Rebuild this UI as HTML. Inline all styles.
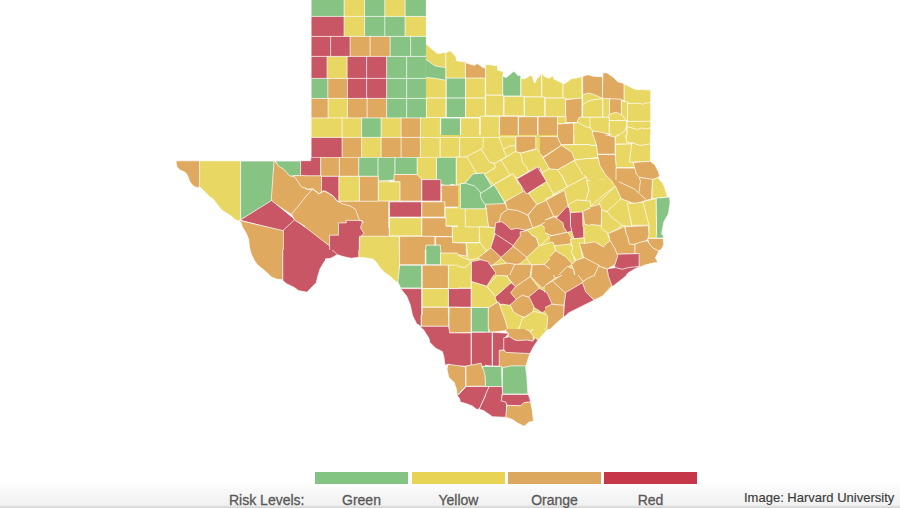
<!DOCTYPE html>
<html><head><meta charset="utf-8"><style>
html,body{margin:0;padding:0;background:#fff;width:900px;height:508px;overflow:hidden;position:relative}
.bar{position:absolute;top:472px;height:12px}
.foot{position:absolute;left:0;top:482px;width:900px;height:26px;background:linear-gradient(#fff 0%,#f7f7f7 40%,#f1f1f1 88%,#e6e6e6 92%,#d3d3d3 100%)}
.lab{position:absolute;top:492px;font-family:"Liberation Sans",sans-serif;font-size:14px;color:#585858;-webkit-text-stroke:0.3px #585858;white-space:nowrap;line-height:17px}
.c{width:120px;text-align:center}
</style></head><body>
<svg width="900" height="508" viewBox="0 0 900 508" style="position:absolute;left:0;top:0"><defs><clipPath id="c0"><rect x="305.0" y="0.0" width="121.0" height="157.5"/></clipPath><clipPath id="c1"><rect x="426.0" y="0.0" width="130.0" height="135.0"/></clipPath><clipPath id="c2"><rect x="556.0" y="0.0" width="134.0" height="135.0"/></clipPath><clipPath id="c3"><rect x="170.0" y="157.5" width="135.0" height="92.5"/></clipPath><clipPath id="c4"><rect x="305.0" y="157.5" width="153.0" height="92.5"/></clipPath><clipPath id="c5"><rect x="426.0" y="135.0" width="114.0" height="22.5"/><rect x="458.0" y="157.5" width="82.0" height="27.5"/></clipPath><clipPath id="c6"><rect x="540.0" y="135.0" width="50.0" height="40.0"/></clipPath><clipPath id="c7"><rect x="458.0" y="185.0" width="87.0" height="50.0"/></clipPath><clipPath id="c8"><rect x="540.0" y="175.0" width="50.0" height="10.0"/><rect x="545.0" y="185.0" width="45.0" height="42.0"/></clipPath><clipPath id="c9"><rect x="590.0" y="135.0" width="100.0" height="45.0"/></clipPath><clipPath id="c10"><rect x="590.0" y="180.0" width="100.0" height="55.0"/></clipPath><clipPath id="c11"><rect x="170.0" y="250.0" width="155.0" height="90.0"/></clipPath><clipPath id="c12"><rect x="325.0" y="250.0" width="133.0" height="65.0"/></clipPath><clipPath id="c13"><rect x="458.0" y="235.0" width="92.0" height="40.0"/></clipPath><clipPath id="c14"><rect x="545.0" y="227.0" width="60.0" height="8.0"/><rect x="550.0" y="235.0" width="55.0" height="40.0"/></clipPath><clipPath id="c15"><rect x="605.0" y="235.0" width="85.0" height="40.0"/></clipPath><clipPath id="c16"><rect x="458.0" y="275.0" width="87.0" height="54.0"/></clipPath><clipPath id="c17"><rect x="545.0" y="275.0" width="95.0" height="54.0"/></clipPath><clipPath id="c18"><rect x="400.0" y="315.0" width="58.0" height="14.0"/><rect x="400.0" y="329.0" width="85.0" height="40.0"/></clipPath><clipPath id="c19"><rect x="485.0" y="329.0" width="105.0" height="40.0"/></clipPath><clipPath id="c20"><rect x="400.0" y="369.0" width="190.0" height="26.0"/></clipPath><clipPath id="c21"><rect x="400.0" y="395.0" width="190.0" height="45.0"/></clipPath></defs><g stroke="#fff" stroke-width="0.7" stroke-linejoin="round"><g clip-path="url(#c0)">
<polygon fill="#87c484" points="311.10,-2.40 311.10,17.20 344.90,17.20 344.90,-2.40"/>
<polygon fill="#e8d762" points="344.10,-2.40 344.10,17.20 365.40,17.20 365.40,-2.40"/>
<polygon fill="#87c484" points="364.60,-2.40 364.60,17.20 385.60,17.20 385.60,-2.40"/>
<polygon fill="#e8d762" points="384.80,-2.40 384.80,17.20 405.90,17.20 405.90,-2.40"/>
<polygon fill="#87c484" points="405.10,-2.40 405.10,17.20 426.40,17.20 426.40,-2.40"/>
<polygon fill="#c85664" points="311.10,16.40 311.10,37.20 344.90,37.20 344.90,16.40"/>
<polygon fill="#e8d762" points="344.10,16.40 344.10,37.20 365.40,37.20 365.40,16.40"/>
<polygon fill="#87c484" points="364.60,16.40 364.60,37.20 385.60,37.20 385.60,16.40"/>
<polygon fill="#87c484" points="384.80,16.40 384.80,37.20 405.90,37.20 405.90,16.40"/>
<polygon fill="#e8d762" points="405.10,16.40 405.10,37.20 426.40,37.20 426.40,16.40"/>
<polygon fill="#c85664" points="311.10,36.40 311.10,57.20 331.40,57.20 331.40,36.40"/>
<polygon fill="#c85664" points="330.60,36.40 330.60,57.20 350.90,57.20 350.90,36.40"/>
<polygon fill="#dfaa60" points="350.10,36.40 350.10,57.20 370.90,57.20 370.90,36.40"/>
<polygon fill="#dfaa60" points="370.10,36.40 370.10,57.20 390.90,57.20 390.90,36.40"/>
<polygon fill="#87c484" points="390.10,36.40 390.10,57.20 411.40,57.20 411.40,36.40"/>
<polygon fill="#87c484" points="410.60,36.40 410.60,57.20 426.40,57.20 426.40,36.40"/>
<polygon fill="#c85664" points="311.10,56.40 311.10,79.20 327.90,79.20 327.90,56.40"/>
<polygon fill="#e8d762" points="327.10,56.40 327.10,79.20 347.90,79.20 347.90,56.40"/>
<polygon fill="#c85664" points="347.10,56.40 347.10,79.20 367.40,79.20 367.40,56.40"/>
<polygon fill="#c85664" points="366.60,56.40 366.60,79.20 387.40,79.20 387.40,56.40"/>
<polygon fill="#87c484" points="386.60,56.40 386.60,79.20 407.40,79.20 407.40,56.40"/>
<polygon fill="#87c484" points="406.60,56.40 406.60,79.20 426.40,79.20 426.40,56.40"/>
<polygon fill="#87c484" points="311.10,78.40 311.10,99.20 328.60,99.20 328.60,78.40"/>
<polygon fill="#dfaa60" points="327.80,78.40 327.80,99.20 348.20,99.20 348.20,78.40"/>
<polygon fill="#c85664" points="347.40,78.40 347.40,99.20 367.40,99.20 367.40,78.40"/>
<polygon fill="#c85664" points="366.60,78.40 366.60,99.20 387.40,99.20 387.40,78.40"/>
<polygon fill="#87c484" points="386.60,78.40 386.60,99.20 407.40,99.20 407.40,78.40"/>
<polygon fill="#87c484" points="406.60,78.40 406.60,99.20 426.40,99.20 426.40,78.40"/>
<polygon fill="#dfaa60" points="311.10,98.40 311.10,118.70 328.90,118.70 328.90,98.40"/>
<polygon fill="#e8d762" points="328.10,98.40 328.10,118.70 348.20,118.70 348.20,98.40"/>
<polygon fill="#dfaa60" points="347.40,98.40 347.40,118.70 367.90,118.70 367.90,98.40"/>
<polygon fill="#dfaa60" points="367.10,98.40 367.10,118.70 387.40,118.70 387.40,98.40"/>
<polygon fill="#87c484" points="386.60,98.40 386.60,118.70 407.40,118.70 407.40,98.40"/>
<polygon fill="#87c484" points="406.60,98.40 406.60,118.70 426.40,118.70 426.40,98.40"/>
<polygon fill="#e8d762" points="311.10,117.90 311.10,138.20 342.90,138.20 342.90,117.90"/>
<polygon fill="#e8d762" points="342.10,117.90 342.10,138.20 362.40,138.20 362.40,117.90"/>
<polygon fill="#87c484" points="361.60,117.90 361.60,138.20 381.90,138.20 381.90,117.90"/>
<polygon fill="#e8d762" points="381.10,117.90 381.10,138.20 401.90,138.20 401.90,117.90"/>
<polygon fill="#dfaa60" points="401.10,117.90 401.10,138.20 421.20,138.20 421.20,117.90"/>
<polygon fill="#e8d762" points="420.40,117.90 420.40,138.20 440.90,138.20 440.90,117.90"/>
<polygon fill="#c85664" points="311.10,137.40 311.10,157.70 342.90,157.70 342.90,137.40"/>
<polygon fill="#dfaa60" points="342.10,137.40 342.10,157.70 362.40,157.70 362.40,137.40"/>
<polygon fill="#e8d762" points="361.60,137.40 361.60,157.70 381.90,157.70 381.90,137.40"/>
<polygon fill="#dfaa60" points="381.10,137.40 381.10,157.70 401.90,157.70 401.90,137.40"/>
<polygon fill="#dfaa60" points="401.10,137.40 401.10,157.70 421.20,157.70 421.20,137.40"/>
<polygon fill="#e8d762" points="420.40,137.40 420.40,157.70 440.90,157.70 440.90,137.40"/>
</g>
<g clip-path="url(#c1)">
<polygon fill="#e8d762" points="427.39,45.05 424.93,42.28 424.93,60.29 426.48,60.80 434.51,66.60 443.05,67.95 446.18,68.47 446.18,52.99 442.57,52.47 441.21,53.38 437.47,53.38 431.37,48.58"/>
<polygon fill="#87c484" points="424.93,59.45 424.93,78.14 434.61,79.06 446.18,81.15 446.18,67.66 443.18,67.16 434.82,65.84 426.85,60.08"/>
<polygon fill="#e8d762" points="445.82,53.11 445.82,78.62 465.73,78.62 465.73,61.86 456.77,60.96 455.93,57.17 453.63,53.95 449.82,50.61"/>
<polygon fill="#dfaa60" points="465.38,62.56 465.38,78.62 485.73,78.62 485.73,68.11 482.84,67.62 480.24,65.46 477.33,63.52 474.59,65.35 471.22,64.50"/>
<polygon fill="#e8d762" points="485.60,64.46 485.60,95.29 503.07,95.29 503.07,71.47 497.71,70.13 497.21,64.44 495.87,65.79 491.61,64.94"/>
<polygon fill="#87c484" points="502.71,76.06 502.71,96.18 520.84,96.18 520.84,75.38 517.94,75.38 516.28,73.72 513.80,71.24 506.16,77.54"/>
<polygon fill="#e8d762" points="520.93,77.91 520.93,97.07 541.73,97.07 541.73,74.49 540.13,74.49 539.65,76.42 537.01,78.18 534.97,83.07 533.70,81.80 532.81,77.36 530.73,75.28 524.39,78.90"/>
<polygon fill="#e8d762" points="541.82,72.87 541.82,98.18 563.07,98.18 563.07,83.53 558.40,81.20 554.09,79.04 552.60,75.56 549.26,78.42 544.27,76.34 541.93,72.84"/>
<polygon fill="#e8d762" points="562.93,84.44 562.93,99.30 581.96,98.83 581.96,76.60 575.93,78.05 571.40,78.50 566.88,82.11"/>
<polygon fill="#dfaa60" points="582.49,76.35 582.49,99.51 587.93,97.03 594.50,94.41 601.96,95.34 601.96,75.89 594.46,74.49 587.71,75.16"/>
<polygon fill="#e8d762" points="424.93,77.34 424.93,98.18 446.18,98.18 446.18,80.33 434.72,78.27"/>
<polygon fill="#87c484" points="446.27,78.04 446.27,98.18 465.51,98.18 465.51,78.04"/>
<polygon fill="#e8d762" points="465.60,78.04 465.60,98.18 485.29,98.18 485.29,78.04"/>
<polygon fill="#e8d762" points="426.27,98.04 426.27,117.51 445.96,117.51 445.96,98.04"/>
<polygon fill="#87c484" points="446.27,98.04 446.27,117.51 465.51,117.51 465.51,98.04"/>
<polygon fill="#e8d762" points="465.60,98.04 465.60,117.51 485.29,117.51 485.29,98.04"/>
<polygon fill="#e8d762" points="485.60,95.16 485.60,115.96 503.73,115.96 503.73,95.16"/>
<polygon fill="#e8d762" points="504.04,96.27 504.04,115.96 524.18,115.96 524.18,96.27"/>
<polygon fill="#e8d762" points="524.49,96.93 524.49,116.62 544.84,116.62 544.84,96.93"/>
<polygon fill="#e8d762" points="545.16,98.04 545.16,117.07 565.51,117.07 565.51,98.04"/>
<polygon fill="#dfaa60" points="565.60,99.64 565.60,122.62 581.96,122.62 581.96,98.00"/>
<polygon fill="#e8d762" points="582.49,98.68 582.49,105.08 594.48,99.32 603.73,102.09 603.73,96.35 594.46,94.04 587.63,95.18"/>
<polygon fill="#e8d762" points="582.49,104.19 582.49,117.07 603.73,117.07 603.73,101.26 594.41,98.46"/>
<polygon fill="#e8d762" points="420.71,117.38 420.71,137.07 440.40,137.07 440.40,117.38"/>
<polygon fill="#87c484" points="440.71,118.04 440.71,137.51 460.40,137.51 460.40,118.04"/>
<polygon fill="#e8d762" points="460.71,118.04 460.71,137.51 479.73,137.51 479.73,118.04"/>
<polygon fill="#e8d762" points="480.27,116.27 480.27,137.07 499.29,137.07 499.29,116.27"/>
<polygon fill="#dfaa60" points="499.60,116.27 499.60,135.96 518.18,135.96 518.18,116.27"/>
<polygon fill="#dfaa60" points="518.49,116.71 518.49,136.62 537.51,136.62 537.51,116.71"/>
<polygon fill="#dfaa60" points="538.04,116.71 538.04,137.07 557.51,137.07 557.51,116.71"/>
<polygon fill="#e8d762" points="557.38,116.71 557.38,123.73 565.96,123.73 565.96,116.71"/>
<polygon fill="#dfaa60" points="557.38,124.07 557.38,143.29 574.87,143.29 573.71,122.91"/>
<polygon fill="#e8d762" points="574.04,123.19 574.04,143.29 599.13,143.29 603.88,134.27 590.37,127.52 589.25,117.38 578.70,117.38"/>
</g>
<g clip-path="url(#c2)">
<polygon fill="#e8d762" points="541.82,72.87 541.82,98.18 563.07,98.18 563.07,83.53 558.40,81.20 554.09,79.04 552.60,75.56 549.26,78.42 544.27,76.34 541.93,72.84"/>
<polygon fill="#e8d762" points="562.93,84.44 562.93,99.30 581.96,98.83 581.96,76.60 575.93,78.05 571.40,78.50 566.88,82.11"/>
<polygon fill="#e8d762" points="545.16,98.04 545.16,117.07 565.51,117.07 565.51,98.04"/>
<polygon fill="#dfaa60" points="565.60,99.64 565.60,122.62 581.96,122.62 581.96,98.00"/>
<polygon fill="#e8d762" points="557.38,116.71 557.38,123.73 565.96,123.73 565.96,116.71"/>
<polygon fill="#dfaa60" points="557.38,124.07 557.38,143.29 574.87,143.29 573.71,122.91"/>
<polygon fill="#dfaa60" points="538.04,116.71 538.04,137.07 557.51,137.07 557.51,116.71"/>
<polygon fill="#dfaa60" points="582.61,76.46 582.61,95.69 588.63,93.88 593.54,95.19 598.00,97.20 602.49,99.13 602.49,76.70 593.40,76.35 587.83,74.64"/>
<polygon fill="#dfaa60" points="602.93,72.87 602.24,99.49 610.50,99.26 621.11,100.04 624.37,100.69 624.37,83.62 618.01,81.89 613.57,77.45 606.81,72.87"/>
<polygon fill="#e8d762" points="624.13,83.71 624.13,100.99 627.17,102.81 631.77,104.54 638.53,103.97 643.10,105.12 645.41,103.96 650.75,103.37 650.75,90.06 642.17,89.59 635.74,89.59 629.09,86.38"/>
<polygon fill="#e8d762" points="582.61,94.85 582.61,106.08 586.03,103.35 590.43,101.15 597.10,100.04 603.27,99.08 603.28,99.02 598.33,96.47 593.80,94.44 588.61,93.05"/>
<polygon fill="#e8d762" points="582.61,105.06 582.61,117.44 602.82,117.44 602.82,98.64 596.98,99.24 590.18,100.38 585.60,102.67"/>
<polygon fill="#e8d762" points="602.81,98.68 602.81,117.44 609.78,117.44 609.78,98.68"/>
<polygon fill="#dfaa60" points="609.54,98.66 609.54,115.36 616.10,112.98 621.57,115.41 621.57,99.26"/>
<polygon fill="#e8d762" points="621.33,100.84 621.33,114.91 624.82,120.15 627.74,121.61 627.74,102.12"/>
<polygon fill="#e8d762" points="627.50,103.11 627.50,121.70 650.75,121.70 650.75,102.56 645.18,103.18 643.01,104.27 638.60,103.16 631.84,103.73"/>
<polygon fill="#e8d762" points="626.94,121.35 626.94,127.45 631.72,128.65 637.46,130.37 641.94,128.68 645.28,129.80 650.75,128.58 650.75,121.35"/>
<polygon fill="#e8d762" points="626.94,126.63 626.94,138.76 650.75,138.76 650.75,127.76 645.32,128.97 641.92,127.84 637.43,129.52 631.94,127.87"/>
<polygon fill="#e8d762" points="608.98,114.50 608.98,120.80 626.47,120.80 621.99,115.04 616.15,112.12"/>
<polygon fill="#e8d762" points="608.98,120.57 608.98,134.12 613.82,136.54 619.64,135.37 624.86,131.89 626.62,127.21 626.62,120.57"/>
<polygon fill="#e8d762" points="577.56,120.29 577.56,122.88 580.56,124.68 585.67,127.51 590.73,128.78 590.12,117.20 579.41,117.20"/>
<polygon fill="#e8d762" points="589.90,117.20 589.90,128.45 593.50,131.44 596.96,132.02 602.57,133.14 609.22,134.35 609.22,117.20"/>
<polygon fill="#e8d762" points="573.63,123.47 573.63,138.76 592.95,138.76 592.95,130.93 590.53,127.91 585.96,126.76 580.96,123.99 578.01,122.22"/>
<polygon fill="#dfaa60" points="592.71,131.20 592.71,138.76 609.22,138.76 609.22,134.70 602.75,132.59 597.09,131.45"/>
<polygon fill="#e8d762" points="608.98,134.48 608.98,138.76 627.20,138.76 626.55,127.10 626.37,127.07 624.22,131.35 619.33,134.62 613.88,135.71"/>
</g>
<g clip-path="url(#c3)">
<polygon fill="#dfaa60" points="176.20,160.80 176.20,163.85 176.83,166.48 179.55,169.83 182.82,171.16 185.91,172.99 187.74,176.07 189.64,181.18 191.70,184.27 194.29,186.55 197.79,187.86 200.20,185.68 200.00,160.80"/>
<polygon fill="#e8d762" points="199.60,160.80 199.60,186.56 203.11,190.28 207.02,194.08 209.54,196.71 213.42,199.29 217.18,204.34 221.12,209.49 224.98,212.13 230.07,215.33 233.96,218.52 237.98,221.17 240.80,219.64 240.80,160.80"/>
<polygon fill="#87c484" points="240.60,161.00 240.60,220.31 271.98,201.23 274.83,161.00"/>
<polygon fill="#dfaa60" points="274.06,160.50 271.18,201.21 292.09,214.94 312.72,188.74 302.24,186.64 296.26,177.67 290.23,175.26 284.26,168.69 279.25,165.68"/>
<polygon fill="#87c484" points="275.26,161.00 278.72,166.30 283.74,169.31 289.82,176.00 301.40,176.00 301.40,161.00"/>
<polygon fill="#c85664" points="300.60,160.70 300.60,176.40 320.60,176.40 320.60,157.40 310.60,157.40 310.60,160.70"/>
<polygon fill="#dfaa60" points="293.03,175.60 295.69,178.25 301.76,187.36 312.38,189.40 321.40,188.36 321.40,175.60"/>
<polygon fill="#c85664" points="240.00,220.15 283.11,231.44 295.61,219.98 271.63,200.51"/>
<polygon fill="#c85664" points="282.60,230.82 282.60,254.43 335.07,250.32 294.98,219.48"/>
<polygon fill="#dfaa60" points="238.95,220.41 241.05,222.80 242.54,227.37 246.44,233.58 248.71,239.59 249.40,247.27 251.09,253.59 283.40,254.41 283.40,230.68 238.99,220.35"/>
<polygon fill="#dfaa60" points="291.52,214.36 294.70,220.29 335.95,244.43 350.40,240.30 350.40,203.71 338.11,199.62 330.18,197.63 322.18,191.64 312.26,188.54"/>
</g>
<g clip-path="url(#c4)">
<polygon fill="#dfaa60" points="297.38,175.82 297.38,252.62 389.29,252.62 389.29,175.82"/>
<polygon fill="#c85664" points="300.71,160.71 300.71,176.40 320.84,176.40 320.84,157.16 310.71,157.16 310.71,160.71"/>
<polygon fill="#dfaa60" points="320.71,157.16 320.71,176.40 339.51,176.40 339.51,157.16"/>
<polygon fill="#dfaa60" points="339.38,157.16 339.38,176.40 359.07,176.40 359.07,157.16"/>
<polygon fill="#87c484" points="358.71,157.16 358.71,176.40 378.40,176.40 378.40,157.16"/>
<polygon fill="#87c484" points="378.04,157.16 378.04,180.86 394.10,180.16 395.29,174.93 395.29,157.16"/>
<polygon fill="#87c484" points="394.93,157.16 394.93,174.84 417.51,174.84 417.51,157.16"/>
<polygon fill="#e8d762" points="417.16,157.16 417.16,179.73 436.84,179.73 436.84,157.16"/>
<polygon fill="#87c484" points="436.49,157.16 436.49,183.73 439.92,183.73 444.34,185.50 447.83,185.97 452.23,184.21 456.40,185.68 456.40,157.16"/>
<polygon fill="#e8d762" points="456.27,157.16 456.27,188.18 473.73,188.18 473.73,157.16"/>
<polygon fill="#dfaa60" points="394.04,174.49 394.04,181.48 399.60,181.92 399.60,201.07 421.51,201.07 421.51,179.18 417.29,174.49"/>
<polygon fill="#e8d762" points="378.49,181.82 378.49,201.07 399.96,201.07 399.96,181.82"/>
<polygon fill="#c85664" points="421.82,179.60 421.82,201.07 440.84,201.07 440.84,179.60"/>
<polygon fill="#dfaa60" points="441.38,185.16 441.38,207.07 459.96,207.07 459.96,185.16"/>
<polygon fill="#c85664" points="389.60,201.82 389.60,217.07 421.51,217.07 421.51,201.82"/>
<polygon fill="#dfaa60" points="421.82,201.82 421.82,217.07 444.84,217.07 444.84,201.82"/>
<polygon fill="#e8d762" points="445.16,207.82 445.16,225.96 464.84,225.96 464.84,207.82"/>
<polygon fill="#e8d762" points="389.60,217.82 389.60,235.96 421.51,235.96 421.51,217.82"/>
<polygon fill="#dfaa60" points="421.82,217.82 421.82,236.62 452.62,236.62 452.62,226.27 445.96,226.27 445.96,217.82"/>
<polygon fill="#e8d762" points="452.27,226.71 452.27,242.62 478.18,242.62 478.18,226.71"/>
<polygon fill="#c85664" points="290.71,215.85 290.71,265.96 300.09,265.96 334.77,250.09"/>
<polygon fill="#c85664" points="329.60,235.16 329.60,257.07 359.29,257.07 359.29,237.94 363.84,233.40 360.44,227.73 362.77,220.73 346.27,220.26 346.27,222.93 338.49,222.93 338.49,235.16"/>
<polygon fill="#e8d762" points="359.60,236.27 359.60,265.96 399.29,265.96 399.29,236.27"/>
<polygon fill="#dfaa60" points="399.60,236.27 399.60,265.96 434.84,265.96 434.84,236.27"/>
<polygon fill="#dfaa60" points="435.60,236.71 435.60,244.94 437.92,253.51 457.03,253.51 466.62,257.72 466.62,242.71 452.62,242.71 452.62,236.71"/>
<polygon fill="#87c484" points="425.82,245.16 425.82,265.96 440.40,265.96 440.40,245.16"/>
<polygon fill="#e8d762" points="440.71,252.93 440.71,265.96 469.29,265.96 469.29,252.93"/>
<polygon fill="#dfaa60" points="292.36,175.77 292.36,180.50 294.72,180.50 296.36,184.86 299.35,186.66 303.29,187.22 307.25,189.48 312.83,189.26 319.17,194.10 322.34,190.92 321.76,175.77"/>
<polygon fill="#c85664" points="321.54,176.33 321.54,191.16 324.64,191.16 329.59,193.91 333.44,196.33 336.88,201.26 339.17,201.26 339.17,176.33"/>
<polygon fill="#e8d762" points="338.93,176.33 338.93,201.26 359.37,201.26 359.37,176.33"/>
<polygon fill="#dfaa60" points="359.47,176.33 359.47,201.26 378.23,201.26 378.23,176.33"/>
<polyline fill="none" points="295.0,180.1 296.7,184.6 299.5,186.3 303.4,186.8 307.3,189.1 313.0,188.9 319.1,193.6 324.7,190.8 329.8,193.6 333.7,196.4 337.6,201.4 343.3,204.2 350.0,205.9 355.6,209.3 359.0,219.4 363.5,222.7"/>
<polyline fill="none" points="291.6,212.6 312.4,189.1"/>
<polyline fill="none" points="388.7,202.0 388.7,228.4"/>
</g>
<g clip-path="url(#c5)">
<polygon fill="#e8d762" points="399.60,99.60 399.60,300.40 700.40,300.40 700.40,99.60"/>
<polygon fill="#e8d762" points="420.60,137.60 420.60,157.40 440.40,157.40 440.40,137.60"/>
<polygon fill="#e8d762" points="440.16,137.41 440.16,157.29 459.48,157.29 459.48,137.41"/>
<polygon fill="#e8d762" points="459.58,137.41 459.58,157.29 467.04,157.29 483.61,148.14 483.61,137.41"/>
<polygon fill="#e8d762" points="483.39,137.41 482.82,147.70 480.43,149.50 489.15,162.88 495.09,163.47 507.28,155.92 499.18,137.41"/>
<polygon fill="#e8d762" points="498.91,136.84 503.76,150.18 509.71,146.61 515.60,146.02 515.60,136.84"/>
<polygon fill="#e8d762" points="503.47,149.43 506.58,156.88 515.60,152.08 515.60,145.82 509.47,145.82"/>
<polygon fill="#dfaa60" points="515.92,136.28 515.92,152.15 520.82,153.37 535.80,148.76 535.80,136.28"/>
<polygon fill="#e8d762" points="466.39,156.72 475.67,173.54 484.99,174.13 496.00,167.76 495.35,163.87 489.64,162.16 481.10,149.07"/>
<polygon fill="#e8d762" points="456.21,157.05 456.21,184.85 464.30,183.64 476.43,173.25 467.17,157.05"/>
<polygon fill="#e8d762" points="494.56,163.40 495.13,167.90 484.27,174.18 493.80,184.90 510.70,174.41 501.30,159.72"/>
<polygon fill="#e8d762" points="501.18,160.12 509.87,174.59 517.47,178.10 529.16,171.09 527.32,166.19 523.42,162.84 522.32,157.35 521.13,153.20 515.14,151.40"/>
<polygon fill="#e8d762" points="520.31,153.23 521.54,157.54 522.69,163.27 526.64,166.66 528.42,171.40 540.40,167.85 540.40,152.79 536.64,149.15"/>
<polygon fill="#c85664" points="516.87,179.22 527.34,193.76 541.41,193.76 541.41,168.36 536.45,167.12"/>
<polygon fill="#87c484" points="463.96,183.98 460.92,183.98 460.92,193.76 479.41,193.76 491.05,185.61 482.86,173.32 474.63,173.32"/>
<polygon fill="#87c484" points="484.49,190.89 484.49,193.76 500.22,193.76 494.56,184.97"/>
<polygon fill="#e8d762" points="494.47,184.22 499.24,193.76 523.72,193.76 513.11,173.73"/>
<polygon fill="#87c484" points="473.00,173.92 464.50,183.80 473.90,186.66 478.58,190.95 480.59,194.40 491.43,185.90 483.61,172.98"/>
<polygon fill="#87c484" points="460.40,183.74 460.40,208.80 485.50,208.80 485.50,203.88 481.98,198.55 481.08,193.66 479.22,190.45 474.30,185.94 465.24,183.19"/>
<polygon fill="#87c484" points="480.26,193.61 481.22,198.85 484.89,204.41 505.29,203.47 494.13,184.84"/>
<polygon fill="#c85664" points="516.83,178.96 526.58,194.05 546.55,181.42 537.53,167.27"/>
</g>
<g clip-path="url(#c6)">
<polygon fill="#e8d762" points="399.60,99.60 399.60,300.40 700.40,300.40 700.40,99.60"/>
<polygon fill="#e8d762" points="557.43,124.92 565.75,124.30 565.75,119.60 557.43,119.60"/>
<polygon fill="#dfaa60" points="565.51,119.60 565.51,123.21 577.54,123.21 577.54,119.60"/>
<polygon fill="#dfaa60" points="557.43,124.09 557.43,136.90 560.02,144.53 573.61,144.53 573.61,124.09"/>
<polygon fill="#e8d762" points="573.93,123.07 573.93,144.53 597.45,144.53 593.24,136.72 592.67,130.96 591.36,130.31 582.97,125.28 578.34,121.81"/>
<polygon fill="#e8d762" points="577.86,118.48 577.86,122.44 582.54,125.96 591.68,130.22 589.83,118.48"/>
<polygon fill="#e8d762" points="590.13,118.48 592.50,131.52 601.73,134.98 608.96,136.18 608.96,118.48"/>
<polygon fill="#e8d762" points="609.29,118.48 609.29,136.02 614.20,137.25 619.99,134.94 625.79,130.30 626.38,118.48"/>
<polygon fill="#e8d762" points="626.69,118.48 626.11,142.85 631.41,142.85 631.41,118.48"/>
<polygon fill="#e8d762" points="614.90,136.59 614.90,143.97 625.80,143.97 625.80,130.52 619.59,134.24"/>
<polygon fill="#dfaa60" points="592.45,130.65 592.45,136.94 596.95,144.82 598.11,154.07 615.15,154.07 614.56,136.50 608.64,135.32 601.93,134.20"/>
<polygon fill="#e8d762" points="560.27,144.91 571.21,152.81 574.65,160.27 598.90,157.39 597.70,144.29 560.29,144.87"/>
<polygon fill="#dfaa60" points="535.76,136.44 536.34,149.89 542.25,157.57 561.38,145.40 557.19,136.44"/>
<polygon fill="#dfaa60" points="542.95,158.03 548.83,169.21 558.16,169.79 574.83,160.02 571.85,152.29 561.42,145.33"/>
<polygon fill="#e8d762" points="527.36,151.10 527.36,172.20 539.87,167.65 542.15,173.33 549.62,168.97 542.67,156.81 536.33,149.30"/>
<polygon fill="#c85664" points="527.36,171.37 527.36,178.76 542.75,178.76 542.75,173.75 538.00,166.64"/>
<polygon fill="#e8d762" points="542.51,172.51 542.51,178.76 564.42,178.76 558.28,169.56 548.99,168.98"/>
<polygon fill="#e8d762" points="557.48,169.80 563.46,178.76 585.52,178.76 583.11,170.31 574.42,160.46"/>
<polygon fill="#e8d762" points="574.23,160.08 581.28,171.82 584.75,178.76 603.46,178.76 598.21,157.16"/>
<polygon fill="#dfaa60" points="598.02,154.39 599.19,166.09 602.65,178.76 618.03,178.76 615.70,167.09 615.12,154.39"/>
<polygon fill="#e8d762" points="615.46,144.29 615.46,167.54 631.41,167.54 631.41,144.29"/>
<polygon fill="#dfaa60" points="615.97,167.86 617.18,178.76 631.41,178.76 631.41,167.86"/>
<polygon fill="#87c484" points="473.00,173.92 464.50,183.80 473.90,186.66 478.58,190.95 480.59,194.40 491.43,185.90 483.61,172.98"/>
<polygon fill="#87c484" points="460.40,183.74 460.40,208.80 485.50,208.80 485.50,203.88 481.98,198.55 481.08,193.66 479.22,190.45 474.30,185.94 465.24,183.19"/>
<polygon fill="#87c484" points="480.26,193.61 481.22,198.85 484.89,204.41 505.29,203.47 494.13,184.84"/>
<polygon fill="#c85664" points="516.83,178.96 526.58,194.05 546.55,181.42 537.53,167.27"/>
</g>
<g clip-path="url(#c7)">
<polygon fill="#e8d762" points="399.60,99.60 399.60,300.40 700.40,300.40 700.40,99.60"/>
<polygon fill="#87c484" points="460.82,177.13 460.82,208.41 485.88,208.41 484.04,201.66 482.37,199.43 481.80,196.03 478.34,192.57 474.36,188.60 465.98,184.68 460.93,177.10"/>
<polygon fill="#87c484" points="479.82,194.95 481.62,199.75 483.42,203.36 505.15,203.36 493.89,184.99"/>
<polygon fill="#e8d762" points="494.68,183.48 493.28,185.57 503.55,199.83 505.45,202.36 524.00,191.92 520.99,183.48"/>
<polygon fill="#c85664" points="520.14,183.48 523.19,192.03 527.49,193.87 542.06,183.55 542.04,183.48"/>
<polygon fill="#e8d762" points="528.00,193.89 536.28,205.13 551.41,198.73 551.41,183.39 539.63,185.75"/>
<polygon fill="#dfaa60" points="484.86,203.13 486.07,208.59 485.51,213.07 486.64,218.74 487.80,226.87 495.06,228.08 499.75,222.22 501.98,214.41 508.31,209.23 504.67,202.55"/>
<polygon fill="#dfaa60" points="505.08,201.64 507.49,209.48 516.67,211.20 527.56,215.21 536.93,204.66 528.82,193.66 523.49,191.29"/>
<polygon fill="#dfaa60" points="501.28,213.94 498.85,222.44 501.49,222.44 505.85,225.71 510.47,230.32 517.34,229.18 525.22,230.30 533.61,227.91 527.74,215.00 517.45,210.42 507.69,209.28"/>
<polygon fill="#dfaa60" points="528.11,215.23 532.81,228.17 542.19,224.65 551.41,220.04 551.41,200.31 546.44,200.31 536.17,204.88"/>
<polygon fill="#e8d762" points="465.31,208.17 465.31,226.93 488.62,226.93 487.43,218.62 486.27,208.17"/>
<polygon fill="#e8d762" points="479.34,226.66 479.34,243.76 492.99,243.76 495.35,227.84"/>
<polygon fill="#c85664" points="495.65,222.82 494.49,232.15 496.81,243.76 518.71,243.76 525.21,230.18 517.35,228.36 510.74,229.46 506.38,225.10 501.72,221.61"/>
<polyline fill="none" points="494.9,233.3 502.7,241.1"/>
<polygon fill="#e8d762" points="526.91,230.23 532.79,243.76 551.41,243.76 551.41,234.22 546.81,229.62 542.15,224.37"/>
<polygon fill="#dfaa60" points="520.34,231.79 519.14,243.76 535.85,243.76 533.40,236.41 527.58,230.59"/>
<polygon fill="#dfaa60" points="541.41,224.15 546.22,230.16 551.41,235.35 551.41,219.15"/>
<polygon fill="#87c484" points="473.00,173.92 464.50,183.80 473.90,186.66 478.58,190.95 480.59,194.40 491.43,185.90 483.61,172.98"/>
<polygon fill="#87c484" points="460.40,183.74 460.40,208.80 485.50,208.80 485.50,203.88 481.98,198.55 481.08,193.66 479.22,190.45 474.30,185.94 465.24,183.19"/>
<polygon fill="#87c484" points="480.26,193.61 481.22,198.85 484.89,204.41 505.29,203.47 494.13,184.84"/>
<polygon fill="#c85664" points="516.83,178.96 526.58,194.05 546.55,181.42 537.53,167.27"/>
</g>
<g clip-path="url(#c8)">
<polygon fill="#e8d762" points="399.60,99.60 399.60,300.40 700.40,300.40 700.40,99.60"/>
<polygon fill="#e8d762" points="542.85,174.26 546.37,183.64 553.33,195.24 567.46,186.99 558.15,168.37"/>
<polygon fill="#e8d762" points="558.43,168.48 567.89,187.39 586.67,176.82 578.33,168.48"/>
<polygon fill="#e8d762" points="578.41,168.48 585.65,176.92 586.84,181.66 605.73,179.30 599.72,168.48"/>
<polygon fill="#e8d762" points="539.81,184.24 537.36,185.47 537.36,203.19 554.03,194.86 545.75,180.67"/>
<polygon fill="#e8d762" points="552.50,195.47 563.85,191.29 566.57,202.72 568.51,205.31 577.14,200.70 586.30,200.70 589.80,190.22 587.52,181.12 586.26,176.71 567.87,186.48 552.24,194.90"/>
<polygon fill="#e8d762" points="586.64,180.88 588.97,190.19 585.56,200.98 591.04,206.45 615.76,186.90 610.95,180.89 605.15,178.57"/>
<polygon fill="#dfaa60" points="537.36,203.39 537.36,223.36 553.99,216.23 546.95,199.79"/>
<polygon fill="#dfaa60" points="546.21,200.13 553.79,216.45 562.67,215.27 568.49,207.12 567.32,202.45 564.40,190.16"/>
<polygon fill="#c85664" points="555.14,219.41 565.66,228.76 570.71,228.76 570.13,207.89 566.83,206.56"/>
<polygon fill="#c85664" points="570.46,212.29 570.46,228.76 583.06,228.76 582.47,211.09"/>
<polygon fill="#e8d762" points="568.14,204.59 570.57,212.50 582.76,211.92 591.54,207.24 589.69,201.05 576.95,199.89"/>
<polygon fill="#dfaa60" points="582.77,211.28 584.53,224.19 601.55,228.88 602.13,211.44 598.55,204.27 590.90,207.79"/>
<polygon fill="#e8d762" points="597.85,204.71 602.06,211.93 607.52,211.93 620.18,198.11 615.30,189.58"/>
<polygon fill="#e8d762" points="600.74,211.32 609.33,217.44 620.64,228.76 629.08,228.76 627.93,201.12 619.58,198.73 607.15,210.03"/>
<polygon fill="#dfaa60" points="537.36,223.03 537.36,228.76 564.06,228.76 562.81,222.51 554.08,216.69"/>
<polygon fill="#87c484" points="473.00,173.92 464.50,183.80 473.90,186.66 478.58,190.95 480.59,194.40 491.43,185.90 483.61,172.98"/>
<polygon fill="#87c484" points="460.40,183.74 460.40,208.80 485.50,208.80 485.50,203.88 481.98,198.55 481.08,193.66 479.22,190.45 474.30,185.94 465.24,183.19"/>
<polygon fill="#87c484" points="480.26,193.61 481.22,198.85 484.89,204.41 505.29,203.47 494.13,184.84"/>
<polygon fill="#c85664" points="516.83,178.96 526.58,194.05 546.55,181.42 537.53,167.27"/>
</g>
<g clip-path="url(#c9)">
<polygon fill="#e8d762" points="583.48,127.60 583.48,145.24 597.92,145.24 593.24,132.37 592.05,127.60"/>
<polygon fill="#e8d762" points="591.25,126.48 592.52,132.83 608.97,136.35 608.97,126.48"/>
<polygon fill="#e8d762" points="609.32,126.48 608.71,136.18 614.81,137.40 625.21,131.62 625.86,126.48"/>
<polygon fill="#e8d762" points="626.13,126.48 626.13,142.99 632.06,142.99 639.96,146.38 650.50,144.03 650.50,126.48"/>
<polygon fill="#dfaa60" points="592.27,131.95 596.39,144.91 596.97,154.21 615.14,154.21 615.14,137.23 608.66,135.47"/>
<polygon fill="#e8d762" points="615.46,136.73 615.46,144.11 632.18,144.11 632.24,143.61 626.88,142.27 625.15,131.89"/>
<polygon fill="#e8d762" points="615.46,144.45 615.46,167.68 634.90,167.68 633.60,162.48 630.33,161.39 632.60,143.86"/>
<polygon fill="#e8d762" points="631.80,142.61 629.44,162.07 650.50,162.07 650.50,143.80 640.03,145.55"/>
<polygon fill="#dfaa60" points="596.79,154.54 598.07,158.38 598.64,165.16 604.87,175.36 612.85,186.76 616.76,186.76 617.95,179.63 616.26,167.24 615.11,154.54"/>
<polygon fill="#e8d762" points="583.48,145.56 583.48,159.32 597.78,157.53 596.59,145.56"/>
<polygon fill="#e8d762" points="583.48,159.63 583.48,181.17 604.06,180.03 611.86,181.33 611.90,181.27 605.52,174.89 599.97,166.01 598.22,157.86"/>
<polygon fill="#dfaa60" points="616.03,168.00 616.03,180.83 618.40,186.76 640.98,186.76 640.38,177.21 638.09,174.91 635.21,168.00"/>
<polygon fill="#dfaa60" points="633.32,162.43 636.27,174.22 639.80,177.75 652.38,180.04 658.24,177.70 659.51,175.17 658.32,171.62 654.90,164.77 650.22,161.26"/>
<polygon fill="#dfaa60" points="639.56,177.48 640.18,186.76 652.74,186.76 652.74,179.28"/>
<polygon fill="#e8d762" points="653.06,179.35 653.06,186.76 663.00,186.76 661.68,182.82 658.11,177.46"/>
<polygon fill="#e8d762" points="583.48,181.49 583.48,186.76 612.42,186.76 611.14,180.34"/>
</g>
<g clip-path="url(#c10)">
<polygon fill="#e8d762" points="583.48,178.48 583.48,238.76 657.23,238.76 657.23,198.86 667.44,197.16 665.06,188.85 662.78,183.14 658.12,178.48"/>
<polygon fill="#e8d762" points="585.68,178.48 586.85,191.29 589.10,200.29 590.36,206.58 602.09,196.02 615.26,186.29 611.05,178.48"/>
<polygon fill="#e8d762" points="583.48,178.48 583.48,209.74 591.06,207.21 589.88,200.12 587.64,191.16 586.49,178.48"/>
<polygon fill="#dfaa60" points="610.10,178.48 614.95,186.36 620.62,199.41 635.51,203.99 651.60,198.82 652.76,178.48"/>
<polyline fill="none" points="618.7,181.7 634.4,189.0 646.7,200.2"/>
<polyline fill="none" points="640.6,180.0 638.9,192.3"/>
<polygon fill="#e8d762" points="652.51,178.48 651.93,198.97 667.44,197.18 665.06,188.85 662.78,183.14 658.12,178.48"/>
<polygon fill="#87c484" points="655.86,198.15 656.43,238.76 662.93,238.76 661.73,232.75 663.94,221.67 668.44,213.80 670.14,202.45 669.53,196.96"/>
<polygon fill="#e8d762" points="599.19,202.28 599.19,210.70 602.91,210.70 607.56,211.87 621.40,199.18 615.43,186.04"/>
<polygon fill="#e8d762" points="606.92,211.36 611.64,218.44 620.76,225.28 631.44,226.47 630.28,202.16 620.83,198.62"/>
<polygon fill="#e8d762" points="627.16,203.17 631.81,225.29 650.69,225.29 648.23,219.16 643.66,202.00 635.48,203.17"/>
<polygon fill="#e8d762" points="642.87,201.59 647.47,219.39 649.13,224.94 648.56,238.76 656.67,238.76 656.10,198.58"/>
<polygon fill="#dfaa60" points="583.48,208.88 583.48,222.95 591.65,225.29 601.08,226.46 602.24,210.24 599.83,204.21"/>
<polygon fill="#e8d762" points="601.44,209.71 601.44,227.28 607.35,234.38 620.09,227.43 621.42,224.77 612.22,217.87 607.69,212.22"/>
<polygon fill="#e8d762" points="583.48,223.31 583.48,238.76 607.85,238.76 607.85,233.72 600.92,225.64 591.79,224.50"/>
<polygon fill="#dfaa60" points="608.17,233.61 608.17,238.76 628.19,238.76 624.54,226.59"/>
<polygon fill="#dfaa60" points="624.92,226.76 627.32,238.76 649.41,238.76 648.21,225.60"/>
</g>
<g clip-path="url(#c11)">
<polygon fill="#dfaa60" points="246.18,232.82 248.67,239.53 249.38,247.34 251.00,253.45 254.05,259.73 257.12,264.42 262.68,269.09 266.40,272.10 271.06,276.76 276.52,279.12 283.07,279.89 283.07,232.82"/>
<polygon fill="#c85664" points="282.80,232.82 282.80,280.52 286.53,283.69 294.20,287.44 298.86,290.67 306.80,292.14 316.27,282.67 317.72,276.53 320.01,268.94 324.56,261.25 328.37,259.00 336.07,255.23 337.45,253.63 313.93,232.82"/>
<polygon fill="#dfaa60" points="312.72,232.82 331.07,249.05 331.07,232.82"/>
<polygon fill="#c85664" points="330.27,232.82 330.27,248.52 336.67,254.00 340.33,255.83 347.50,256.73 352.86,257.62 360.40,257.62 360.40,232.82"/>
</g>
<g clip-path="url(#c12)">
<polygon fill="#dfaa60" points="317.82,222.82 317.82,235.84 330.18,247.63 330.18,236.96 339.07,236.96 339.07,222.82"/>
<polygon fill="#c85664" points="317.82,234.74 317.82,268.80 317.98,268.85 323.80,259.15 330.79,258.28 338.45,254.06"/>
<polygon fill="#c85664" points="329.38,236.16 329.38,247.40 337.57,254.69 343.00,256.50 351.09,258.29 359.51,257.36 359.86,236.21 363.58,233.05 361.32,230.24 363.18,222.82 338.27,222.82 338.27,236.16"/>
<polygon fill="#e8d762" points="359.07,236.16 358.70,257.40 362.63,257.40 367.93,258.28 373.14,259.15 376.58,262.59 380.13,267.92 385.52,273.31 390.86,276.87 396.26,281.91 399.51,282.35 399.51,236.16"/>
<polygon fill="#dfaa60" points="399.60,236.16 399.60,264.87 425.29,264.87 425.29,236.16"/>
<polygon fill="#dfaa60" points="435.16,236.16 435.16,244.96 440.15,244.96 440.50,253.84 466.18,253.84 466.18,236.16"/>
<polygon fill="#87c484" points="425.91,245.04 425.91,264.87 440.93,264.87 440.93,245.04"/>
<polygon fill="#e8d762" points="440.49,253.04 440.49,265.36 465.94,268.09 471.73,261.33 456.99,253.04"/>
<polygon fill="#e8d762" points="467.07,242.38 470.79,261.88 480.40,260.92 480.40,242.38"/>
<polygon fill="#c85664" points="471.60,259.27 471.60,284.07 480.40,284.07 480.40,259.27"/>
<polygon fill="#87c484" points="399.64,265.13 397.81,281.96 400.63,287.98 421.73,287.98 421.73,265.13"/>
<polygon fill="#dfaa60" points="422.18,265.13 422.18,288.51 448.40,288.51 448.40,265.13"/>
<polygon fill="#e8d762" points="448.49,265.13 448.49,288.51 471.51,288.51 471.51,265.13"/>
<polygon fill="#c85664" points="400.59,288.60 406.76,296.31 410.28,305.12 413.01,317.84 421.73,317.84 421.73,288.60"/>
<polygon fill="#e8d762" points="422.18,288.60 422.18,307.18 448.40,307.18 448.40,288.60"/>
<polygon fill="#c85664" points="448.49,288.60 448.49,307.18 471.51,307.18 471.51,288.60"/>
<polygon fill="#e8d762" points="471.60,281.49 471.60,307.18 480.40,307.18 480.40,281.49"/>
<polygon fill="#dfaa60" points="422.18,307.27 422.18,317.84 448.40,317.84 448.40,307.27"/>
<polygon fill="#dfaa60" points="449.02,307.27 449.02,317.84 471.51,317.84 471.51,307.27"/>
<polygon fill="#87c484" points="471.60,307.27 471.60,317.84 480.40,317.84 480.40,307.27"/>
</g>
<g clip-path="url(#c13)">
<polygon fill="#e8d762" points="453.48,220.48 453.48,280.76 556.41,280.76 556.41,220.48"/>
<polygon fill="#e8d762" points="453.48,220.48 453.48,226.89 465.50,226.89 465.50,220.48"/>
<polygon fill="#e8d762" points="465.82,220.48 465.82,226.90 488.16,226.31 485.56,220.48"/>
<polygon fill="#dfaa60" points="485.81,220.48 488.37,226.23 496.20,229.85 499.33,220.48"/>
<polygon fill="#dfaa60" points="501.55,220.48 504.06,226.75 509.95,230.87 516.74,228.04 526.88,231.42 532.84,227.84 532.84,220.48"/>
<polygon fill="#c85664" points="498.45,220.48 495.52,234.53 513.46,246.68 524.62,231.41 516.75,227.17 510.04,229.96 504.71,226.23 502.41,220.48"/>
<polygon fill="#dfaa60" points="532.04,220.48 532.04,228.17 535.99,226.85 544.82,220.55 544.80,220.48"/>
<polygon fill="#e8d762" points="525.99,230.90 536.58,237.96 538.96,246.88 549.82,236.63 540.42,224.88"/>
<polygon fill="#dfaa60" points="543.33,220.48 542.12,227.71 549.01,236.91 556.41,240.60 556.41,220.48"/>
<polygon fill="#e8d762" points="453.48,227.21 453.48,242.60 479.55,242.60 478.95,227.21"/>
<polygon fill="#e8d762" points="479.28,227.18 479.86,244.04 485.77,251.13 491.26,248.08 495.90,228.37"/>
<polygon fill="#c85664" points="495.18,233.72 490.46,248.49 501.02,258.47 514.00,246.07"/>
<polygon fill="#dfaa60" points="512.82,246.19 526.85,258.46 539.07,246.24 536.14,237.43 523.90,231.03"/>
<polygon fill="#dfaa60" points="453.48,242.92 453.48,253.76 466.65,256.15 466.04,242.92"/>
<polygon fill="#e8d762" points="466.34,242.92 468.11,260.06 478.76,258.29 486.41,250.64 479.88,242.92"/>
<polygon fill="#dfaa60" points="477.84,257.97 488.45,263.86 491.48,266.29 501.62,257.94 490.94,247.85"/>
<polygon fill="#dfaa60" points="500.41,257.93 507.59,263.91 517.96,265.06 527.47,257.93 513.35,246.16"/>
<polygon fill="#e8d762" points="526.31,257.86 531.10,265.05 544.95,265.05 556.46,253.54 552.91,242.28 538.98,245.77"/>
<polygon fill="#e8d762" points="453.48,253.38 453.48,266.10 465.23,268.45 471.90,261.78 469.78,260.37"/>
<polygon fill="#e8d762" points="453.48,265.87 453.48,280.76 471.67,280.76 471.67,261.50 464.97,267.59"/>
<polygon fill="#c85664" points="471.44,261.51 471.44,280.76 494.02,280.76 496.41,272.40 491.23,266.65 487.79,261.49 480.83,259.75"/>
<polygon fill="#dfaa60" points="490.79,265.46 495.54,272.59 493.79,280.76 508.01,280.76 515.63,264.33 507.75,263.12"/>
<polygon fill="#dfaa60" points="514.79,264.25 507.12,280.76 529.42,280.76 531.78,264.25"/>
<polygon fill="#dfaa60" points="532.07,264.83 530.89,280.76 556.41,280.76 556.41,273.44 544.92,264.24"/>
<polygon fill="#dfaa60" points="544.17,264.70 556.41,273.27 556.41,252.46"/>
</g>
<g clip-path="url(#c14)">
<polygon fill="#e8d762" points="543.48,220.48 543.48,280.76 646.41,280.76 646.41,220.48"/>
<polygon fill="#dfaa60" points="543.48,220.48 543.48,232.36 551.69,235.89 568.12,232.37 559.80,220.48"/>
<polygon fill="#c85664" points="559.41,220.48 567.29,232.59 572.42,230.66 569.43,220.48"/>
<polygon fill="#c85664" points="569.78,220.48 571.55,230.51 573.88,238.69 584.13,238.09 583.55,220.48"/>
<polygon fill="#dfaa60" points="582.92,220.48 585.14,223.44 592.06,226.90 601.52,226.30 601.52,220.48"/>
<polygon fill="#e8d762" points="583.88,222.52 583.88,244.36 594.31,242.62 603.39,247.73 610.58,242.34 607.08,233.03 601.30,225.52 592.21,226.08"/>
<polygon fill="#e8d762" points="601.28,220.48 601.28,227.77 606.55,233.62 609.08,233.62 620.74,227.21 617.07,220.48"/>
<polygon fill="#e8d762" points="616.16,220.48 619.97,227.46 631.82,226.87 631.82,220.48"/>
<polygon fill="#dfaa60" points="608.54,232.96 609.71,242.32 613.13,249.16 617.78,254.39 635.19,253.81 635.19,244.16 628.37,241.89 623.82,227.08"/>
<polygon fill="#dfaa60" points="625.29,226.66 629.99,243.72 641.62,243.72 646.41,241.33 646.41,226.08"/>
<polygon fill="#e8d762" points="543.48,232.04 543.48,242.45 551.94,235.94"/>
<polygon fill="#dfaa60" points="549.15,236.26 547.92,242.40 555.01,246.54 569.97,244.82 572.39,238.78 567.62,232.22"/>
<polygon fill="#e8d762" points="543.48,241.78 543.48,263.37 556.12,250.72 553.14,242.38"/>
<polygon fill="#e8d762" points="554.61,245.78 555.87,251.44 561.62,254.89 564.94,257.10 571.70,264.42 576.49,266.47 572.35,252.29 573.50,247.69 569.84,244.03"/>
<polygon fill="#e8d762" points="570.30,239.04 572.65,247.82 571.51,252.36 576.25,260.66 582.48,258.17 580.27,243.79 584.73,244.34 584.08,237.84"/>
<polygon fill="#dfaa60" points="579.23,242.85 583.95,258.19 598.71,266.14 608.99,269.56 614.92,267.19 618.39,254.46 613.80,248.72 610.24,241.59 603.33,246.78 594.46,241.78 584.27,243.48"/>
<polygon fill="#c85664" points="617.64,254.16 614.14,267.01 616.66,269.54 625.84,269.54 638.55,267.23 638.55,253.58"/>
<polygon fill="#c85664" points="606.23,269.45 609.80,280.76 623.78,280.76 628.34,273.92 633.89,270.59 639.30,266.53 639.20,266.30 625.77,268.74 617.00,268.74 614.69,266.43"/>
<polygon fill="#dfaa60" points="543.48,263.37 543.48,280.84 556.42,278.49 567.70,267.21 572.56,264.17 565.46,256.48 555.59,250.68"/>
<polygon fill="#dfaa60" points="571.46,264.53 573.80,270.38 576.10,280.76 591.24,280.76 596.99,271.56 599.38,265.59 584.31,257.48 576.22,260.37"/>
<polygon fill="#dfaa60" points="598.67,265.81 596.27,271.21 591.49,280.76 610.64,280.76 607.05,269.40"/>
<polygon fill="#dfaa60" points="555.36,278.42 575.80,280.82 573.41,268.85 567.35,266.42"/>
</g>
<g clip-path="url(#c15)">
<polygon fill="#e8d762" points="598.48,220.48 598.48,229.02 602.05,230.21 605.44,233.04 609.05,233.64 621.44,226.56 614.74,220.48"/>
<polygon fill="#e8d762" points="614.81,220.48 620.59,226.89 631.83,226.89 631.83,220.48"/>
<polygon fill="#e8d762" points="631.59,220.48 631.59,226.90 649.18,226.32 649.83,220.48"/>
<polygon fill="#e8d762" points="649.57,220.48 648.99,229.78 647.86,233.16 647.86,238.11 656.52,238.11 656.52,220.48"/>
<polygon fill="#87c484" points="656.28,220.48 656.28,238.11 663.25,238.11 663.25,232.06 662.14,226.51 663.95,220.48"/>
<polygon fill="#e8d762" points="598.48,229.25 598.48,244.69 603.42,247.17 610.59,241.20 607.04,232.92"/>
<polygon fill="#dfaa60" points="608.54,232.95 609.72,241.21 614.23,249.12 616.58,254.39 635.19,253.81 635.19,244.09 630.06,243.52 625.52,227.09"/>
<polygon fill="#dfaa60" points="625.31,226.66 629.42,244.29 634.81,244.29 640.63,243.70 641.76,242.01 645.06,241.46 648.08,239.04 648.66,233.23 648.07,226.08"/>
<polygon fill="#dfaa60" points="647.77,238.44 649.01,244.64 652.51,248.14 658.38,251.08 661.47,249.22 663.82,244.52 663.21,238.44"/>
<polygon fill="#dfaa60" points="634.95,244.17 634.95,253.76 638.33,254.33 638.91,267.47 645.02,265.03 651.72,263.36 657.86,262.13 655.45,257.90 658.90,251.00 653.00,248.05 649.70,244.20 647.32,240.63 641.42,241.82"/>
<polygon fill="#c85664" points="616.51,254.16 614.18,264.67 615.41,268.37 622.45,269.54 628.12,268.41 633.71,267.85 639.12,267.25 639.12,253.58"/>
<polygon fill="#c85664" points="606.26,268.79 608.65,280.76 622.73,280.76 623.92,277.21 628.31,272.82 633.86,269.49 639.37,266.74 639.25,266.35 633.63,267.06 627.98,267.62 622.44,269.28 615.74,267.61"/>
<polygon fill="#dfaa60" points="598.48,245.06 598.48,266.03 606.78,269.59 610.30,267.24 614.92,264.93 617.82,255.65 614.95,248.76 610.21,240.47 603.27,246.25"/>
<polygon fill="#dfaa60" points="598.48,266.36 598.48,280.76 609.47,280.76 607.08,268.82"/>
</g>
<g clip-path="url(#c16)">
<polygon fill="#e8d762" points="453.48,270.48 453.48,330.76 556.41,330.76 556.41,270.48"/>
<polygon fill="#e8d762" points="453.48,270.48 453.48,288.11 471.11,288.11 471.11,270.48"/>
<polygon fill="#c85664" points="471.44,270.48 471.44,281.84 486.60,286.50 496.69,270.48"/>
<polygon fill="#dfaa60" points="496.01,270.48 497.33,275.75 506.88,276.34 509.49,270.48"/>
<polygon fill="#dfaa60" points="508.54,270.48 507.32,276.59 515.52,287.13 530.62,276.68 530.00,270.48"/>
<polygon fill="#dfaa60" points="530.92,270.48 530.92,276.66 542.53,288.27 556.62,275.35 550.54,270.48"/>
<polygon fill="#e8d762" points="487.02,286.58 495.35,296.69 511.65,283.30 506.86,276.12 497.49,274.94"/>
<polygon fill="#c85664" points="453.48,288.44 453.48,307.19 471.11,307.19 471.11,288.44"/>
<polygon fill="#e8d762" points="471.44,281.56 471.44,307.17 488.78,308.32 497.54,302.48 496.33,297.63 486.65,286.24"/>
<polygon fill="#c85664" points="494.92,297.15 497.34,302.60 502.02,304.93 510.13,306.09 517.28,299.53 511.63,292.76 516.16,287.10 511.11,282.69"/>
<polygon fill="#dfaa60" points="510.60,292.77 516.66,300.04 522.42,296.00 529.17,297.69 539.73,288.90 530.28,276.50 515.33,286.86"/>
<polygon fill="#c85664" points="528.58,297.14 533.25,307.07 542.60,312.91 552.02,303.49 545.07,291.34 539.12,288.36"/>
<polygon fill="#dfaa60" points="509.42,305.66 510.78,307.02 513.04,312.68 518.83,316.15 524.65,317.31 532.80,312.66 533.98,306.74 529.36,297.49 522.28,295.13 516.48,299.18"/>
<polygon fill="#dfaa60" points="544.28,290.98 551.09,303.48 547.64,317.29 556.41,317.29 556.41,281.27"/>
<polygon fill="#e8d762" points="497.68,306.63 504.01,319.29 507.45,330.76 515.77,330.76 520.42,326.12 525.16,317.82 519.15,315.41 513.67,312.12 510.26,305.30 502.06,304.13"/>
<polygon fill="#e8d762" points="522.00,318.88 518.44,330.76 543.93,330.76 547.42,322.62 548.60,316.70 542.69,313.15 533.48,311.42"/>
<polygon fill="#dfaa60" points="453.48,307.51 453.48,330.76 471.11,330.76 471.11,307.51"/>
<polygon fill="#87c484" points="471.44,307.51 471.44,330.76 488.51,330.76 488.51,307.51"/>
<polygon fill="#dfaa60" points="488.27,307.69 488.27,330.76 508.29,330.76 504.76,319.01 498.42,301.72"/>
</g>
<g clip-path="url(#c17)">
<polygon fill="#e8d762" points="533.48,270.48 533.48,330.76 548.63,330.76 555.47,323.92 563.31,317.20 568.89,312.74 580.07,307.15 593.54,300.42 602.57,295.90 612.70,286.33 625.05,276.79 631.36,270.48"/>
<polygon fill="#dfaa60" points="533.48,270.48 533.48,282.31 541.74,288.21 555.71,277.73 552.08,270.48"/>
<polygon fill="#dfaa60" points="551.19,270.48 554.99,278.09 563.39,275.69 564.69,270.48"/>
<polygon fill="#dfaa60" points="552.71,280.66 551.82,281.55 565.25,293.82 582.44,283.51 583.71,280.97 577.85,270.42 564.03,273.87"/>
<polygon fill="#dfaa60" points="574.59,270.48 583.15,281.48 587.92,279.10 595.90,275.68 598.50,270.48"/>
<polygon fill="#dfaa60" points="581.65,282.52 582.88,285.61 585.16,292.44 594.43,299.97 602.59,295.89 612.91,284.43 607.10,270.48 597.60,270.48 595.31,275.06 587.55,278.38"/>
<polygon fill="#c85664" points="606.25,270.48 612.26,286.68 625.05,276.79 631.36,270.48"/>
<polygon fill="#c85664" points="564.92,293.09 563.15,317.85 568.90,312.74 580.07,307.15 594.04,300.17 585.85,291.98 582.34,282.63"/>
<polygon fill="#dfaa60" points="541.12,287.60 547.00,294.66 551.56,304.92 563.96,306.10 565.73,293.17 552.45,281.05"/>
<polygon fill="#c85664" points="533.48,290.82 533.48,311.79 543.00,309.41 552.36,304.73 547.69,294.23 541.85,287.23"/>
<polygon fill="#dfaa60" points="542.30,308.87 546.94,316.98 545.79,330.76 548.63,330.76 555.47,323.92 563.45,317.09 564.04,305.31 551.76,304.14"/>
<polygon fill="#e8d762" points="533.48,312.09 533.48,330.76 546.59,330.76 547.76,316.79 543.03,309.70"/>
</g>
<g clip-path="url(#c18)">
<polygon fill="#c85664" points="410.63,310.48 413.10,316.65 416.52,323.49 421.16,326.81 421.16,310.48"/>
<polygon fill="#dfaa60" points="421.49,310.48 421.49,326.43 448.66,326.43 448.66,310.48"/>
<polygon fill="#dfaa60" points="448.98,310.48 448.98,333.17 471.11,332.59 471.11,310.48"/>
<polygon fill="#87c484" points="471.43,310.48 471.43,332.04 488.50,332.04 488.50,310.48"/>
<polygon fill="#dfaa60" points="488.83,310.48 488.83,332.60 501.41,332.60 501.41,310.48"/>
<polygon fill="#c85664" points="419.80,326.19 423.82,330.21 426.60,334.66 428.81,337.98 429.94,342.51 435.68,348.24 442.32,351.56 443.94,356.98 444.50,361.44 445.13,365.26 449.27,364.08 451.46,366.27 471.11,366.27 471.11,332.92 449.72,332.92 448.60,326.19"/>
<polygon fill="#c85664" points="471.43,332.36 471.43,366.27 492.43,366.27 492.43,332.36"/>
<polygon fill="#c85664" points="492.75,332.36 492.75,366.27 501.41,366.27 501.41,332.36"/>
<polygon fill="#dfaa60" points="447.94,364.30 446.65,370.76 465.50,370.76 465.50,366.64"/>
<polygon fill="#dfaa60" points="465.82,366.10 465.82,370.76 483.00,370.76 481.10,363.16"/>
<polygon fill="#87c484" points="482.65,366.59 482.65,370.76 501.41,370.76 501.41,366.59"/>
</g>
<g clip-path="url(#c19)">
<polygon fill="#87c484" points="478.48,316.48 478.48,332.43 488.82,332.43 488.82,316.48"/>
<polygon fill="#dfaa60" points="489.14,316.48 489.14,332.47 506.04,330.72 508.50,327.04 504.98,316.48"/>
<polygon fill="#e8d762" points="503.56,316.48 507.77,327.91 518.97,329.09 524.38,316.48"/>
<polygon fill="#e8d762" points="524.62,316.48 519.88,328.35 530.57,331.91 538.39,326.50 535.76,323.34 546.54,321.72 547.85,316.48"/>
<polygon fill="#e8d762" points="534.23,322.76 537.21,326.34 529.99,331.34 532.42,336.19 537.26,341.03 546.62,330.50 546.62,320.90"/>
<polygon fill="#dfaa60" points="546.97,316.48 545.73,331.40 552.08,325.05 558.82,321.12 562.80,316.48"/>
<polygon fill="#dfaa60" points="505.28,330.38 508.72,333.82 507.56,337.32 512.39,339.13 516.95,341.41 527.11,340.85 533.76,342.06 533.14,335.81 529.65,331.15 522.72,327.69 518.71,328.26 507.88,327.12"/>
<polygon fill="#c85664" points="478.48,332.19 478.48,364.37 492.18,366.15 492.18,332.19"/>
<polygon fill="#c85664" points="492.51,332.16 492.51,366.10 499.45,366.10 500.58,350.86 504.53,349.73 504.53,338.35 508.89,333.37"/>
<polygon fill="#c85664" points="503.73,337.88 503.73,349.52 505.56,353.18 529.62,354.33 533.10,347.38 537.73,340.43 535.57,337.56 532.59,341.13 527.17,340.04 517.09,340.60 513.84,339.52 509.25,336.65"/>
<polygon fill="#dfaa60" points="499.24,350.15 499.24,365.91 502.92,368.37 511.46,366.66 525.75,366.66 527.52,360.77 529.93,353.54 506.02,352.40 504.33,350.15"/>
<polygon fill="#87c484" points="482.97,366.42 482.97,376.76 501.72,376.76 501.72,366.42"/>
<polygon fill="#87c484" points="502.61,367.62 502.61,376.76 525.27,376.76 525.88,365.86 511.39,365.86"/>
<polygon fill="#dfaa60" points="478.48,361.93 478.48,376.76 483.81,376.76 482.63,366.08"/>
</g>
<g clip-path="url(#c20)">
<polygon fill="#c85664" points="444.09,358.48 444.09,364.89 448.81,364.89 449.94,366.01 471.86,366.01 471.23,358.48"/>
<polygon fill="#c85664" points="471.59,358.48 471.59,363.21 481.26,363.21 482.38,366.01 492.59,366.01 492.59,358.48"/>
<polygon fill="#c85664" points="492.91,358.48 492.91,366.01 499.32,366.01 499.32,358.48"/>
<polygon fill="#dfaa60" points="499.64,358.48 499.64,365.88 503.91,367.70 526.18,365.99 528.05,358.48"/>
<polygon fill="#dfaa60" points="446.24,365.20 447.46,371.30 448.61,377.03 454.24,382.66 456.44,389.26 457.09,395.73 462.74,389.46 465.65,386.54 465.65,365.78"/>
<polygon fill="#dfaa60" points="465.97,362.98 465.97,386.21 485.87,386.21 485.29,366.46 482.40,365.30 481.23,362.40"/>
<polygon fill="#87c484" points="482.70,366.33 485.06,375.77 485.64,386.77 502.14,386.77 501.56,366.33"/>
<polygon fill="#87c484" points="502.45,366.91 502.45,394.07 527.97,394.07 526.82,376.80 525.65,366.32"/>
<polygon fill="#c85664" points="457.47,395.84 458.71,398.31 459.88,402.43 467.92,404.15 476.90,408.64 479.51,409.29 489.43,386.54 466.20,386.54"/>
<polygon fill="#c85664" points="489.12,386.54 478.75,409.59 486.99,413.12 496.00,416.50 506.62,418.86 506.62,404.76 503.24,400.26 502.10,386.54"/>
<polygon fill="#c85664" points="501.85,394.39 502.47,400.59 507.16,405.28 520.88,406.42 530.25,402.32 528.42,394.39"/>
</g>
<g clip-path="url(#c21)">
<polygon fill="#dfaa60" points="448.48,370.48 448.48,380.05 454.16,384.59 456.35,390.08 457.62,395.81 464.36,389.07 465.55,386.68 465.55,370.48"/>
<polygon fill="#dfaa60" points="465.87,370.48 465.87,386.43 486.31,386.43 486.31,375.29 484.51,370.48"/>
<polygon fill="#87c484" points="483.65,370.48 485.51,375.44 485.51,386.43 501.47,386.43 501.47,370.48"/>
<polygon fill="#87c484" points="501.79,370.48 501.79,394.29 527.94,393.71 525.59,383.17 525.02,370.48"/>
<polygon fill="#c85664" points="457.35,395.53 459.72,399.09 460.32,402.06 466.71,403.81 472.25,406.02 476.85,409.47 479.47,408.82 489.34,386.75 465.54,386.75"/>
<polygon fill="#c85664" points="489.59,386.75 479.18,409.29 483.50,410.53 492.52,416.73 506.52,417.31 506.52,401.46 502.03,399.78 502.03,386.75"/>
<polygon fill="#c85664" points="502.42,394.05 501.17,400.92 505.81,402.08 506.95,405.50 520.87,406.08 523.15,403.79 530.76,402.03 528.30,394.05"/>
<polygon fill="#dfaa60" points="506.88,405.25 505.69,417.17 512.66,419.50 517.13,422.85 524.14,426.35 528.75,422.31 533.49,421.12 532.33,411.22 530.57,401.87 523.89,402.48 520.55,405.82"/>
</g></g></svg>
<div class="foot"></div>
<div class="bar" style="left:315px;width:93px;background:#83c483"></div>
<div class="bar" style="left:411.5px;width:93px;background:#e8d352"></div>
<div class="bar" style="left:508px;width:93px;background:#dca860"></div>
<div class="bar" style="left:604px;width:93px;background:#c43648"></div>
<div class="lab" style="left:229px">Risk Levels:</div>
<div class="lab c" style="left:301.5px">Green</div>
<div class="lab c" style="left:398.5px">Yellow</div>
<div class="lab c" style="left:494.5px">Orange</div>
<div class="lab c" style="left:590.5px">Red</div>
<div class="lab" style="left:744px;top:488.5px;color:#3a3a3a;font-size:13px;-webkit-text-stroke:0.15px #3a3a3a">Image: Harvard University</div>
</body></html>
